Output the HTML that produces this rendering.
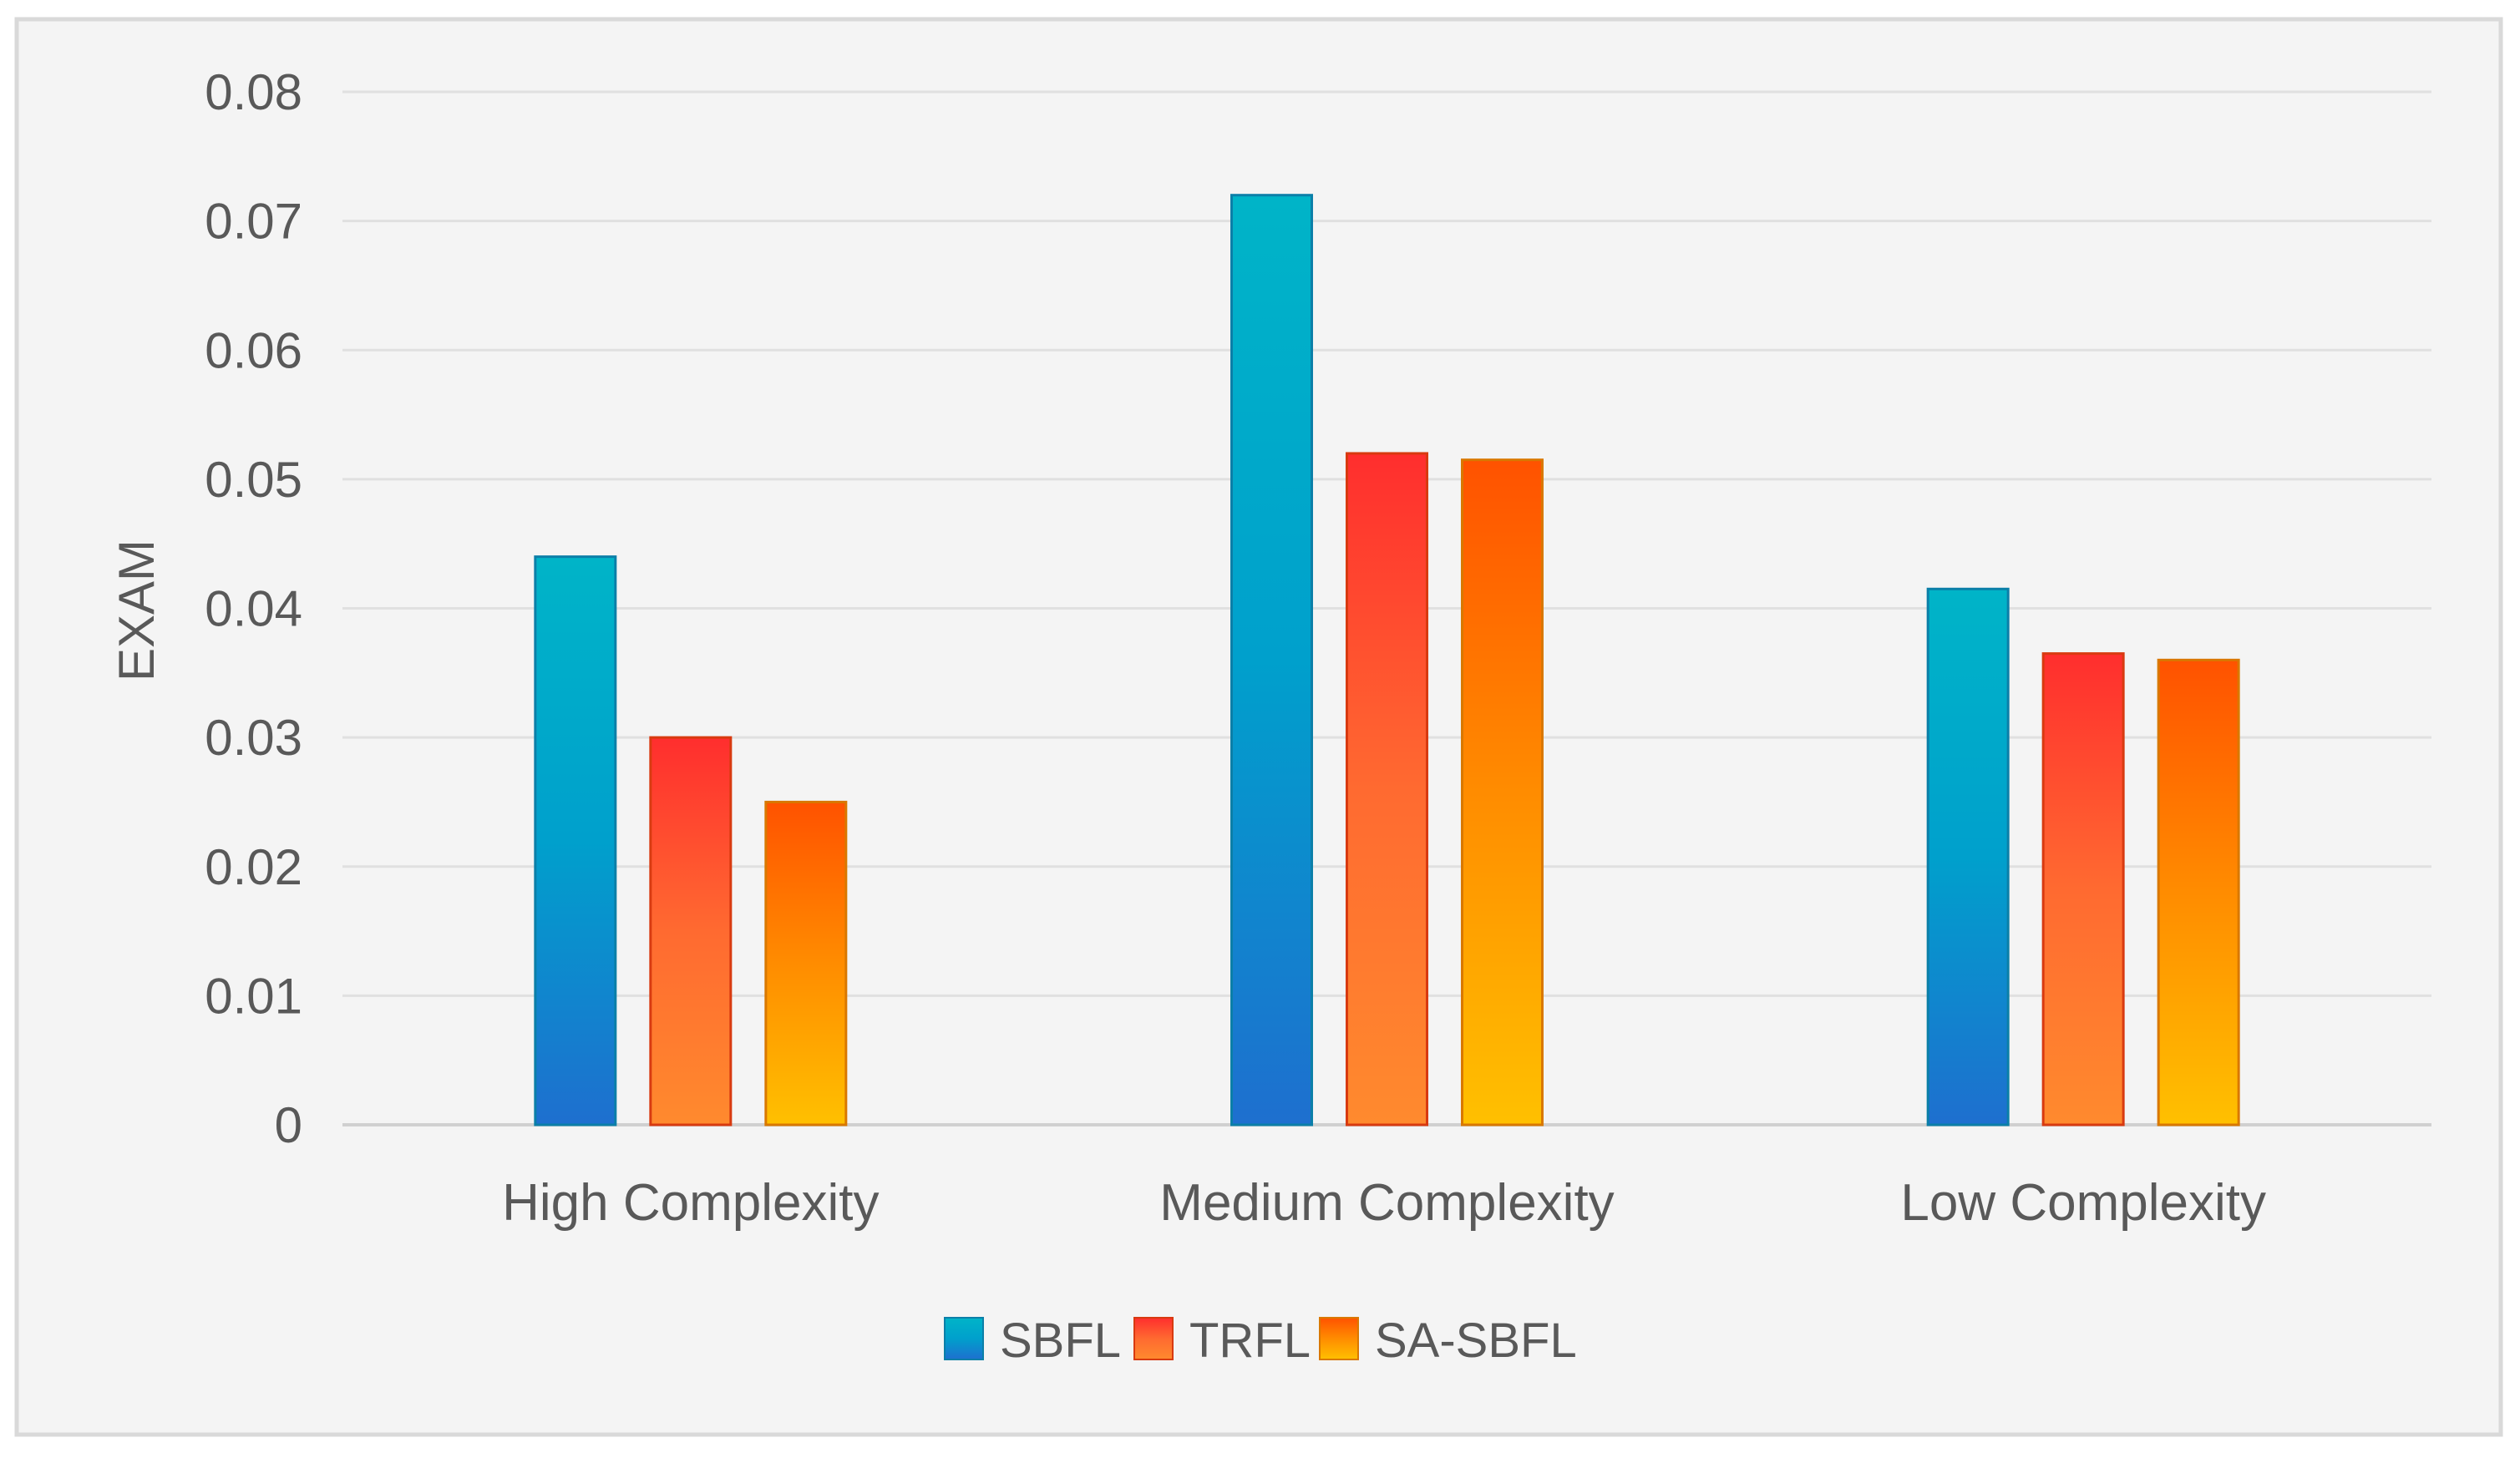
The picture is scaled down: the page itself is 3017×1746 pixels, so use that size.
<!DOCTYPE html>
<html><head><meta charset="utf-8"><style>
html,body{margin:0;padding:0;background:#fff;}
svg{display:block;font-family:"Liberation Sans",sans-serif;}
</style></head><body>
<svg id="chart" width="3017" height="1746" viewBox="0 0 3017 1746" xmlns="http://www.w3.org/2000/svg">
<defs>
<linearGradient id="gS" x1="0" y1="0" x2="0" y2="1"><stop offset="0" stop-color="#00b4c8"/><stop offset="0.5" stop-color="#00a0cc"/><stop offset="1" stop-color="#1e6fcf"/></linearGradient>
<linearGradient id="gT" x1="0" y1="0" x2="0" y2="1"><stop offset="0" stop-color="#ff2e2e"/><stop offset="0.5" stop-color="#ff6a30"/><stop offset="1" stop-color="#ff8a2e"/></linearGradient>
<linearGradient id="gA" x1="0" y1="0" x2="0" y2="1"><stop offset="0" stop-color="#ff5200"/><stop offset="0.5" stop-color="#ff8c00"/><stop offset="1" stop-color="#ffc000"/></linearGradient>
</defs>
<rect x="20" y="23" width="2974" height="1695" fill="#f4f4f4" stroke="#d9d9d9" stroke-width="5"/>
<g id="grid"></g>
<g id="bars"></g>
<g id="labels"></g>
<text transform="translate(184,731) rotate(-90)" text-anchor="middle" font-size="60" fill="#595959">EXAM</text>
<g id="legend"></g>
</svg>
<script>
const categories = ["High Complexity","Medium Complexity","Low Complexity"];
const seriesNames = ["SBFL","TRFL","SA-SBFL"];
const sbfl = [0.044, 0.072, 0.0415];
const trfl = [0.030, 0.052, 0.0365];
const sasbfl = [0.025, 0.0515, 0.036];
const yTicks = [0,0.01,0.02,0.03,0.04,0.05,0.06,0.07,0.08];
const yTickLabels = ["0","0.01","0.02","0.03","0.04","0.05","0.06","0.07","0.08"];

const NS="http://www.w3.org/2000/svg";
const px0=410, px1=2911, py0=1347, py1=110, ymax=0.08;
const y=v=>py0-(v/ymax)*(py0-py1);
const groupW=(px1-px0)/categories.length;
const xc=i=>px0+groupW*(i+0.5);
const barW=96, step=138;
const fills=["url(#gS)","url(#gT)","url(#gA)"];
const edges=["#0b7fa8","#d83a10","#d97800"];
function mk(tag,attrs,parent){const e=document.createElementNS(NS,tag);for(const k in attrs)e.setAttribute(k,attrs[k]);parent.appendChild(e);return e;}
const grid=document.getElementById('grid'),bars=document.getElementById('bars'),labels=document.getElementById('labels'),legend=document.getElementById('legend');
yTicks.forEach((t,i)=>{
  const l=mk('line',{x1:px0,x2:px1,y1:y(t),y2:y(t),stroke:t===0?'#d0d0d0':'#e0e0e0','stroke-width':t===0?4:3},grid);
  
  
  const tx=mk('text',{x:362,y:y(t)+21,'text-anchor':'end','font-size':60,fill:'#595959'},labels);
  tx.textContent=yTickLabels[i];
  
  
});
const series=[sbfl,trfl,sasbfl];
categories.forEach((c,i)=>{
  series.forEach((s,j)=>{
    const x=xc(i)+(j-1)*step-barW/2;
    const r=mk('rect',{x:x,y:y(s[i]),width:barW,height:py0-y(s[i]),fill:fills[j],stroke:edges[j],'stroke-width':3},bars);
    
    
  });
  const t=mk('text',{x:xc(i),y:1461,'text-anchor':'middle','font-size':62,fill:'#595959'},labels);
  t.textContent=c;
  
  
});
const legX=[1131,1358,1580];
seriesNames.forEach((n,j)=>{
  const r=mk('rect',{x:legX[j],y:1578,width:46,height:50,fill:fills[j],stroke:edges[j],'stroke-width':2},legend);
  
  
  const t=mk('text',{x:legX[j]+66,y:1625,'font-size':58,fill:'#595959'},legend);
  t.textContent=n;
  
  
});
</script>
</body></html>
